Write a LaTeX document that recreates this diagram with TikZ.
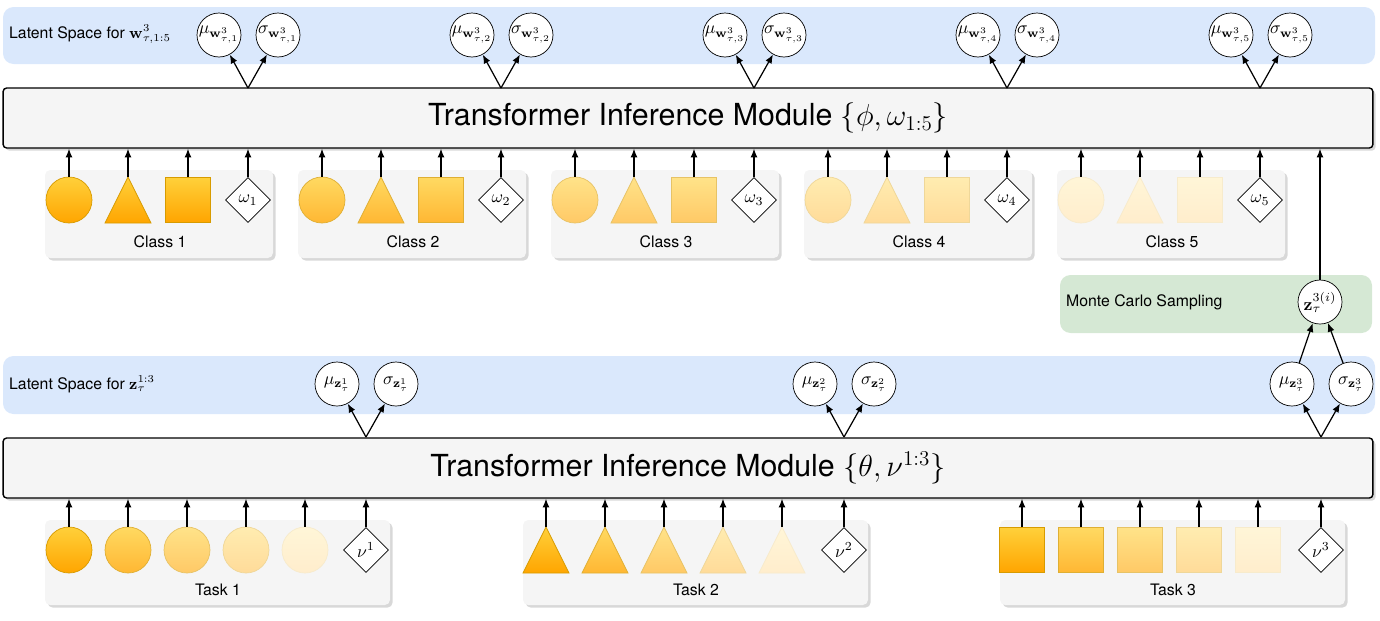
\documentclass[tikz,border=0pt]{standalone}
\usepackage[no-math]{fontspec}
\setmainfont{TeX Gyre Heros}
\usetikzlibrary{shapes.geometric,shadows,arrows.meta}
\definecolor{latentblue}{HTML}{DAE8FC}
\definecolor{mcgreen}{HTML}{D5E8D4}
\definecolor{boxgray}{HTML}{F5F5F5}
\definecolor{ytop}{HTML}{FFD03A}
\definecolor{ybot}{HTML}{FFA500}
\definecolor{ydraw}{HTML}{D79B00}
\tikzset{
  band/.style={rounded corners=6pt, draw=none},
  module/.style={draw, fill=boxgray, rounded corners=2pt, line width=0.8pt,
    drop shadow={shadow xshift=1.5pt, shadow yshift=-1.5pt, fill=gray!60}},
  group/.style={fill=boxgray, rounded corners=3pt,
    drop shadow={shadow xshift=1.5pt, shadow yshift=-1.5pt, fill=gray!60}},
  latent/.style={circle, draw, fill=white, minimum size=0.88cm, inner sep=0pt, font=\normalsize},
  param/.style={diamond, draw, fill=white, aspect=1, minimum size=0.9cm, inner sep=0pt, font=\normalsize},
  yshape/.style={draw=ydraw!#1!white, top color=ytop!#1!white, bottom color=ybot!#1!white},
  ycirc/.style={circle, yshape=#1, minimum size=0.92cm, inner sep=0pt},
  ysq/.style={rectangle, yshape=#1, minimum size=0.9cm, inner sep=0pt},
  arr/.style={-{Latex[length=5pt,width=4pt]}, line width=0.7pt},
  lbl/.style={font=\small},
}
\begin{document}
\begin{tikzpicture}[x=0.02cm, y=-0.02cm]
\useasboundingbox (0,0) rectangle (1380,620);
% bands
\path[band, fill=latentblue] (3,7) rectangle (1375,64);
\path[band, fill=latentblue] (3,356) rectangle (1375,414);
\path[band, fill=mcgreen] (1060,275) rectangle (1372,333);
\node[lbl, anchor=west] (lw) at (3,34) {Latent Space for $\mathbf{w}^{3}_{\tau,1:5}$};
\node[lbl, anchor=west] (lz) at (3,384) {Latent Space for $\mathbf{z}^{1:3}_{\tau}$};
\node[lbl, anchor=west] (mc) at (1060,302) {Monte Carlo Sampling};
% modules
\node[module, minimum width=27.4cm, minimum height=1.2cm] (topmod) at (688,118)
  {\LARGE Transformer Inference Module $\{\phi,\omega_{1:5}\}$};
\node[module, minimum width=27.4cm, minimum height=1.2cm] (botmod) at (688,468)
  {\LARGE Transformer Inference Module $\{\theta,\nu^{1:3}\}$};
% classes
\foreach \i/\p in {1/100,2/80,3/60,4/40,5/20}{
  \pgfmathsetmacro\gx{45+253*(\i-1)}
  \path[group] (\gx,170) rectangle ++(228,88);
  \node[lbl] (cl\i) at (\gx+115,242) {Class \i};
  \node[ycirc=\p] (cc\i) at (\gx+24,200) {};
  \path[yshape=\p] (\gx+60,223) -- (\gx+83,177) -- (\gx+106,223) -- cycle;
  \coordinate (ct\i) at (\gx+83,177);
  \node[ysq=\p] (cs\i) at (\gx+143,200) {};
  \node[param] (om\i) at (\gx+203,200) {$\omega_{\i}$};
  \foreach \n in {cc\i,cs\i,om\i}
    \draw[arr] (\n.north) -- (\n |- topmod.south);
  \draw[arr] (ct\i) -- (ct\i |- topmod.south);
  % latent w
  \coordinate (wp\i) at (\gx+203,88);
  \node[latent] (muw\i) at (\gx+174,35) {$\mu_{\mathbf{w}^3_{\tau,\i}}$};
  \node[latent] (sgw\i) at (\gx+233,35) {$\sigma_{\mathbf{w}^3_{\tau,\i}}$};
  \draw[arr] (wp\i) -- (muw\i);
  \draw[arr] (wp\i) -- (sgw\i);
}
% tasks
\foreach \t/\gx in {1/45,2/523,3/1000}{
  \path[group] (\gx,520) rectangle ++(345,85);
  \node[lbl] (tl\t) at (\gx+173,590) {Task \t};
  \node[param] (nu\t) at (\gx+321,550) {$\nu^{\t}$};
  \draw[arr] (nu\t.north) -- (nu\t |- botmod.south);
  \coordinate (zp\t) at (\gx+321,437);
}
\foreach \k/\p in {0/100,1/80,2/60,3/40,4/20}{
  \node[ycirc=\p] (ta\k) at (69+59*\k,550) {};
  \draw[arr] (ta\k.north) -- (ta\k |- botmod.south);
  \path[yshape=\p] (523+59*\k,573) -- (546+59*\k,527) -- (569+59*\k,573) -- cycle;
  \coordinate (tb\k) at (546+59*\k,527);
  \draw[arr] (tb\k) -- (tb\k |- botmod.south);
  \node[ysq=\p] (tc\k) at (1022+59*\k,550) {};
  \draw[arr] (tc\k.north) -- (tc\k |- botmod.south);
}
% latent z
\foreach \t in {1,2,3}{
  \node[latent] (muz\t) at ([xshift=-0.58cm]zp\t |- 0,384) {$\mu_{\mathbf{z}^{\t}_{\tau}}$};
  \node[latent] (sgz\t) at ([xshift=0.6cm]zp\t |- 0,384) {$\sigma_{\mathbf{z}^{\t}_{\tau}}$};
  \draw[arr] (zp\t) -- (muz\t);
  \draw[arr] (zp\t) -- (sgz\t);
}
% sampling
\node[latent] (zs) at (1320,302) {$\mathbf{z}^{3(i)}_{\tau}$};
\draw[arr] (muz3) -- (zs);
\draw[arr] (sgz3) -- (zs);
\draw[arr] (zs.north) -- (zs |- topmod.south);
\end{tikzpicture}
\end{document}
